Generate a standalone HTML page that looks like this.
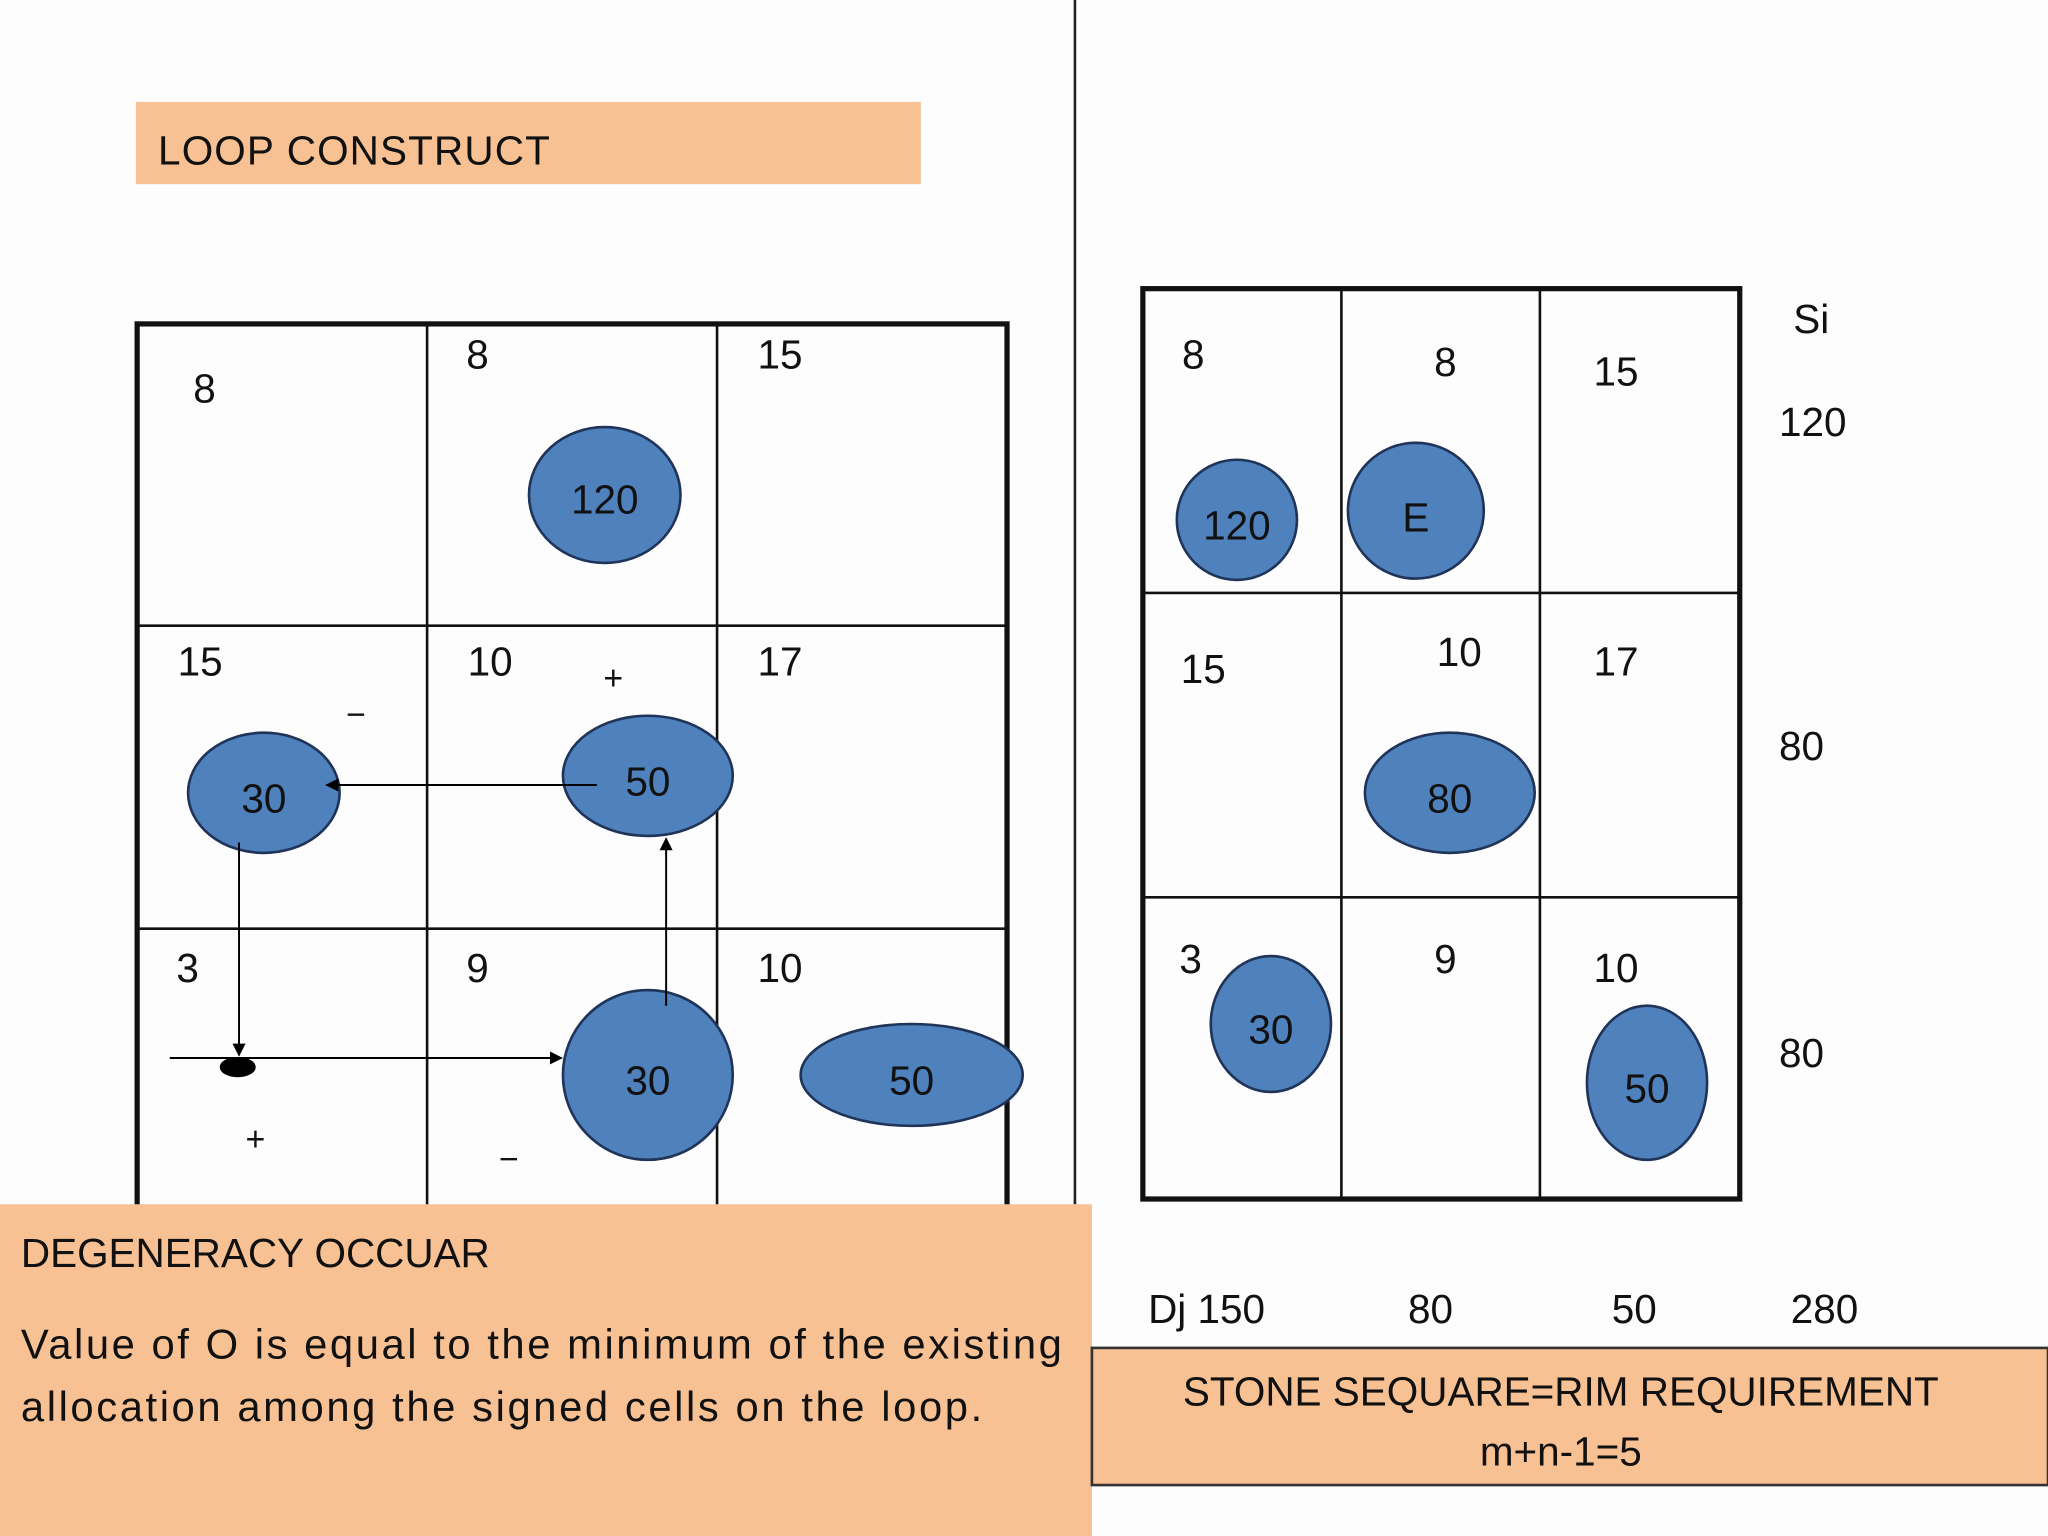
<!DOCTYPE html>
<html><head><meta charset="utf-8"><style>
html,body{margin:0;padding:0;background:#fdfdfd;}
svg{display:block;}
text{font-family:"Liberation Sans",sans-serif;font-size:31px;fill:#111;}
</style></head><body>
<svg width="2048" height="1536" viewBox="0 0 1568 1176" xmlns="http://www.w3.org/2000/svg">
<defs><marker id="ah" markerWidth="10" markerHeight="10" refX="9" refY="5" orient="auto" markerUnits="userSpaceOnUse"><path d="M0,0 L10,5 L0,10 z" fill="#000"/></marker></defs>
<rect width="1568" height="1176" fill="#fdfdfd"/>
<line x1="823" y1="0" x2="823" y2="922" stroke="#222" stroke-width="2"/>
<g>
<rect x="104" y="78" width="601" height="63" fill="#F8C194"/>
<text x="121" y="126" textLength="300">LOOP  CONSTRUCT</text></g>

<g stroke="#111" fill="none">
<rect x="105" y="248" width="666" height="700" stroke-width="4"/>
<line x1="327" y1="248" x2="327" y2="930" stroke-width="2"/>
<line x1="549" y1="248" x2="549" y2="930" stroke-width="2"/>
<line x1="105" y1="479" x2="771" y2="479" stroke-width="2"/>
<line x1="105" y1="711" x2="771" y2="711" stroke-width="2"/>
</g>
<g>
<text x="148" y="308">8</text><text x="357" y="282">8</text><text x="580" y="282">15</text>
<text x="136" y="517">15</text><text x="358" y="517">10</text><text x="580" y="517">17</text>
<text x="135" y="752">3</text><text x="357" y="752">9</text><text x="580" y="752">10</text>
</g>
<g fill="#4F81BD" stroke="#1F3458" stroke-width="2">
<ellipse cx="463" cy="379" rx="58" ry="52"/>
<ellipse cx="202" cy="607" rx="58" ry="46"/>
<ellipse cx="496" cy="594" rx="65" ry="46"/>
<ellipse cx="496" cy="823" rx="65" ry="65"/>
<ellipse cx="698" cy="823" rx="85" ry="39"/>
</g>
<g text-anchor="middle">
<text x="463" y="393">120</text><text x="202" y="622">30</text><text x="496" y="609">50</text>
<text x="496" y="838">30</text><text x="698" y="838">50</text></g>
<g stroke="#000" stroke-width="1.5">
<line x1="457" y1="601" x2="250" y2="601" marker-end="url(#ah)"/>
<line x1="183" y1="645" x2="183" y2="808" marker-end="url(#ah)"/>
<line x1="130" y1="810" x2="430" y2="810" marker-end="url(#ah)"/>
<line x1="510" y1="770" x2="510" y2="642" marker-end="url(#ah)"/>
<ellipse cx="182" cy="817" rx="13" ry="7" fill="#000"/>
</g>
<g>
<text x="462" y="528" style="font-size:26px">+</text><text x="265" y="556" style="font-size:26px">−</text>
<text x="188" y="881" style="font-size:26px">+</text><text x="382" y="896" style="font-size:26px">−</text></g>

<g>
<rect x="0" y="922" width="836" height="254" fill="#F8C194"/>
<text x="16" y="970" textLength="359">DEGENERACY OCCUAR</text>
<text x="16" y="1040" style="font-size:32px" textLength="797">Value of O is equal to the minimum of the existing</text>
<text x="16" y="1088" style="font-size:32px" textLength="736">allocation among the signed cells  on the loop.</text></g>

<g stroke="#111" fill="none">
<rect x="875" y="221" width="457" height="697" stroke-width="4"/>
<line x1="1027" y1="221" x2="1027" y2="918" stroke-width="2"/>
<line x1="1179" y1="221" x2="1179" y2="918" stroke-width="2"/>
<line x1="875" y1="454" x2="1332" y2="454" stroke-width="2"/>
<line x1="875" y1="687" x2="1332" y2="687" stroke-width="2"/>
</g>
<g>
<text x="905" y="282">8</text><text x="1098" y="288">8</text><text x="1220" y="295">15</text>
<text x="904" y="523">15</text><text x="1100" y="510">10</text><text x="1220" y="517">17</text>
<text x="903" y="745">3</text><text x="1098" y="745">9</text><text x="1220" y="752">10</text></g>
<g fill="#4F81BD" stroke="#1F3458" stroke-width="2">
<ellipse cx="947" cy="398" rx="46" ry="46"/>
<ellipse cx="1084" cy="391" rx="52" ry="52"/>
<ellipse cx="1110" cy="607" rx="65" ry="46"/>
<ellipse cx="973" cy="784" rx="46" ry="52"/>
<ellipse cx="1261" cy="829" rx="46" ry="59"/>
</g>
<g text-anchor="middle">
<text x="947" y="413">120</text><text x="1084" y="407">E</text><text x="1110" y="622">80</text>
<text x="973" y="799">30</text><text x="1261" y="844">50</text></g>
<g>
<text x="1373" y="255">Si</text><text x="1362" y="334">120</text><text x="1362" y="582">80</text><text x="1362" y="817">80</text></g>
<g>
<text x="879" y="1013">Dj 150</text><text x="1078" y="1013">80</text><text x="1234" y="1013">50</text><text x="1371" y="1013">280</text></g>
<g>
<rect x="836" y="1032" width="732" height="105" fill="#F8C194" stroke="#333" stroke-width="2"/>
<text x="1195" y="1076" text-anchor="middle">STONE SEQUARE=RIM REQUIREMENT</text>
<text x="1195" y="1122" text-anchor="middle">m+n-1=5</text></g>
</svg>
</body></html>
